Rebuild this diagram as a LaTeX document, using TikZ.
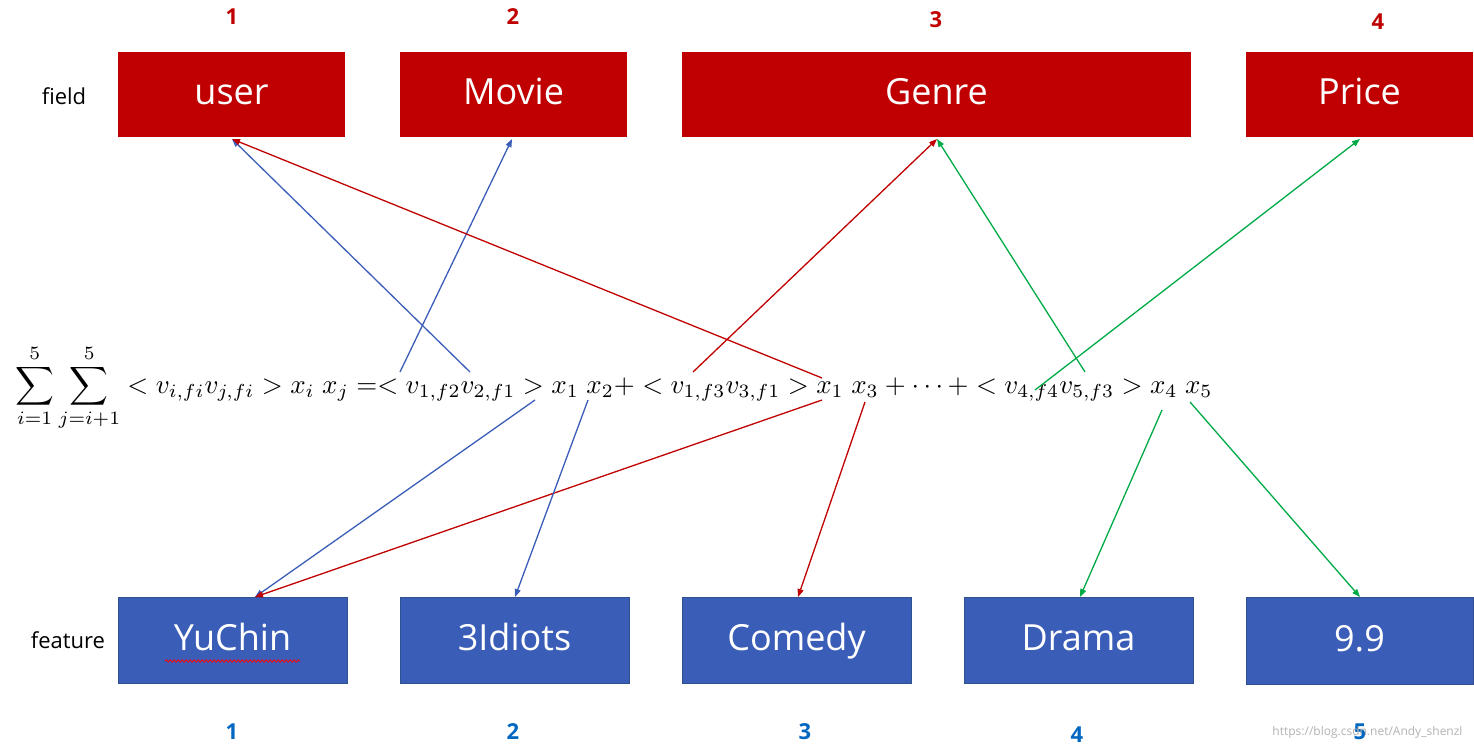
\documentclass[tikz,border=0pt]{standalone}
\usepackage{fontspec}
\usepackage{amsmath}
\setmainfont{Open Sans}
\usetikzlibrary{arrows.meta,decorations.pathmorphing}
\definecolor{fred}{RGB}{192,0,0}
\definecolor{fblue}{RGB}{58,93,184}
\definecolor{fbord}{RGB}{47,82,143}
\definecolor{nblue}{RGB}{0,102,192}
\definecolor{fgreen}{RGB}{0,170,70}
\begin{document}
\begin{tikzpicture}[x=1pt,y=-1pt,
  bt/.style={font=\fontsize{36}{40}\selectfont,inner sep=0,text height=27pt,text depth=7pt},
  fbox/.style={bt,fill=fred,text=white},
  gbox/.style={bt,fill=fblue,draw=fbord,line width=1pt,text=white},
  rnum/.style={text=fred,font=\fontsize{22}{26}\selectfont\bfseries},
  bnum/.style={text=nblue,font=\fontsize{22}{26}\selectfont\bfseries},
  lab/.style={font=\fontsize{22}{26}\selectfont},
  arr/.style={-{Triangle[length=8pt,width=6pt]},line width=1.3pt}]
\useasboundingbox (0,0) rectangle (1474,748);
% field boxes
\node[fbox,minimum width=227,minimum height=85] (user) at (231.5,94.5) {user};
\node[fbox,minimum width=227,minimum height=85] (movie) at (513.5,94.5) {Movie};
\node[fbox,minimum width=509,minimum height=85] (genre) at (936.5,94.5) {Genre};
\node[fbox,minimum width=227,minimum height=85] (price) at (1359.5,94.5) {Price};
\node[rnum] (n1) at (232,17) {1};
\node[rnum] (n2) at (513,17) {2};
\node[rnum] (n3) at (936,20) {3};
\node[rnum] (n4) at (1378,22) {4};
\node[lab] (field) at (64,96) {field};
% feature boxes
\node[gbox,minimum width=229,minimum height=86] (yu) at (232.5,640) {YuChin};
\node[gbox,minimum width=229,minimum height=86] (idi) at (514.5,640) {3Idiots};
\node[gbox,minimum width=229,minimum height=86] (com) at (796.5,640) {Comedy};
\node[gbox,minimum width=229,minimum height=86] (dra) at (1078.5,640) {Drama};
\node[gbox,minimum width=227,minimum height=87] (pr) at (1359.5,641) {9.9};
\draw[red,line width=0.8pt,decorate,decoration={snake,amplitude=1.2pt,segment length=4pt}] (165,661) -- (300,661);
\node[bnum] (m1) at (232,732) {1};
\node[bnum] (m2) at (513,732) {2};
\node[bnum] (m3) at (805,732) {3};
\node[bnum] (m4) at (1077,735) {4};
\node[bnum] (m5) at (1360,732) {5};
\node[lab] (feat) at (68,640) {feature};
\node[text=gray!60,font=\fontsize{12}{14}\selectfont,anchor=east] (wm) at (1466,732) {https://blog.csdn.net/Andy\_shenzl};
% formula
\node[anchor=west,inner sep=0] (formula) at (15,388) {\resizebox{1197pt}{!}{$\displaystyle\sum_{i=1}^{5}\sum_{j=i+1}^{5}<v_{i,fi}v_{j,fi}>x_i\;x_j=<v_{1,f2}v_{2,f1}>x_1\;x_2+<v_{1,f3}v_{3,f1}>x_1\;x_3+\cdots+<v_{4,f4}v_{5,f3}>x_4\;x_5$}};
% coordinates
\coordinate (a1) at (470,372);
\coordinate (a2) at (400,372);
\coordinate (a3) at (822,378);
\coordinate (a4) at (693,372);
\coordinate (a5) at (1085,372);
\coordinate (a6) at (1035,390);
\coordinate (b1) at (535,400);
\coordinate (b2) at (822,400);
\coordinate (b3) at (588,400);
\coordinate (b4) at (865,402);
\coordinate (b5) at (1162,410);
\coordinate (b6) at (1190,402);
\coordinate (tu) at (232,139);
\coordinate (tm) at (512,139);
\coordinate (tg) at (937,139);
\coordinate (tp) at (1360,139);
\coordinate (fy) at (255,597);
\coordinate (fi) at (515,597);
\coordinate (fc) at (798,597);
\coordinate (fd) at (1080,597);
\coordinate (fp) at (1360,597);
\draw[arr,fblue] (a1) -- (tu);
\draw[arr,fblue] (a2) -- (tm);
\draw[arr,fred] (a3) -- (tu);
\draw[arr,fred] (a4) -- (tg);
\draw[arr,fgreen] (a5) -- (tg);
\draw[arr,fgreen] (a6) -- (tp);
\draw[arr,fblue] (b1) -- (fy);
\draw[arr,fred] (b2) -- (fy);
\draw[arr,fblue] (b3) -- (fi);
\draw[arr,fred] (b4) -- (fc);
\draw[arr,fgreen] (b5) -- (fd);
\draw[arr,fgreen] (b6) -- (fp);
\end{tikzpicture}
\end{document}
